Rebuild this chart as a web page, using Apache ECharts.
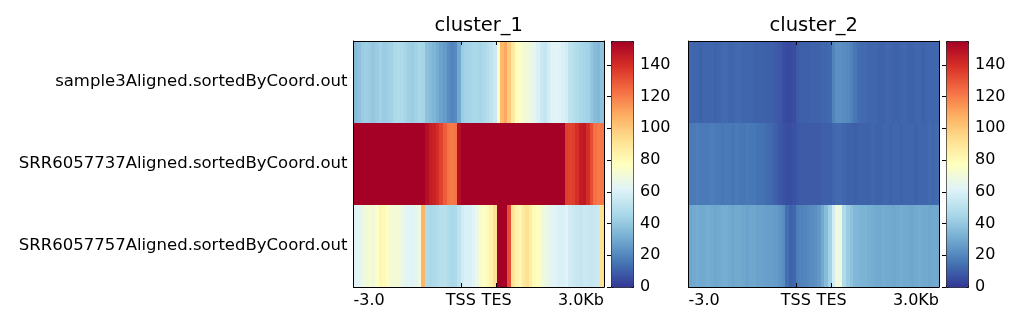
<!DOCTYPE html>
<html>
<head>
<meta charset="utf-8">
<script src="https://cdn.jsdelivr.net/npm/echarts@6/dist/echarts.min.js"></script>
<style>
  html, body { margin: 0; padding: 0; background: #fff; }
  #chart { width: 1024px; height: 326px; }
</style>
</head>
<body>
<div id="chart"></div>
<script>
// Rows of each heatmap (one per sample), top to bottom
const samples = [
  'sample3Aligned.sortedByCoord.out',
  'SRR6057737Aligned.sortedByCoord.out',
  'SRR6057757Aligned.sortedByCoord.out'
];
const clusterNames = ['cluster_1', 'cluster_2'];

// 70 bins of 100 bp: 30 upstream (-3 kb .. TSS), 10 body (TSS .. TES), 30 downstream (TES .. +3 kb)
const binCount = 70;

// cluster_1 mean coverage per bin
const c1Sample3 = [36, 38, 42, 43, 42, 40, 42, 44, 42, 43, 44, 47, 48, 47, 45, 43, 42, 44, 46, 45,
  38, 36, 34, 31, 28, 26, 22, 20, 21, 30, 42, 44, 45, 46, 46, 45, 47, 49, 52, 56,
  75, 105, 110, 100, 88, 78, 76, 72, 70, 68, 66, 60, 56, 54, 58, 62, 63, 62, 60, 58,
  52, 50, 48, 46, 45, 44, 40, 36, 35, 38];
const c1Srr37 = [172, 168, 175, 170, 166, 171, 169, 174, 167, 170, 165, 168, 172, 169, 171, 166, 170, 164, 162, 158,
  150, 146, 144, 140, 135, 128, 122, 121, 122, 150, 160, 166, 170, 172, 168, 174, 176, 178, 175, 172,
  170, 168, 171, 169, 167, 170, 172, 168, 166, 165, 167, 169, 166, 164, 168, 166, 163, 160, 158, 136,
  135, 136, 140, 146, 147, 140, 132, 123, 121, 122];
const c1Srr57 = [62, 64, 68, 70, 72, 70, 76, 82, 80, 76, 72, 70, 72, 68, 64, 63, 62, 64, 70, 106,
  48, 46, 47, 48, 50, 50, 48, 46, 47, 52, 58, 60, 60, 62, 68, 74, 76, 80, 84, 92,
  160, 170, 165, 132, 90, 84, 82, 88, 92, 86, 80, 78, 72, 68, 66, 64, 62, 60, 60, 62,
  58, 56, 55, 54, 56, 55, 54, 55, 56, 92];

// cluster_2 mean coverage per bin
const c2Sample3 = [12, 12, 12, 11, 12, 12, 12, 11, 12, 13, 13, 12, 12, 13, 13, 12, 12, 12, 11, 11,
  11, 10, 10, 10, 9, 8, 6, 5, 5, 6, 9, 10, 10, 10, 11, 11, 11, 12, 12, 13,
  20, 23, 23, 22, 21, 19, 16, 14, 13, 13, 12, 12, 12, 11, 11, 12, 12, 11, 11, 12,
  12, 11, 11, 12, 12, 11, 12, 12, 12, 12];
const c2Srr37 = [17, 17, 18, 17, 17, 17, 18, 17, 17, 16, 17, 17, 16, 17, 16, 16, 17, 16, 16, 15,
  15, 14, 13, 12, 10, 8, 7, 6, 6, 7, 8, 9, 9, 9, 9, 9, 9, 10, 10, 10,
  12, 13, 13, 12, 11, 11, 10, 11, 11, 11, 11, 12, 11, 11, 12, 12, 11, 12, 12, 11,
  12, 12, 12, 11, 12, 12, 12, 13, 12, 13];
const c2Srr57 = [29, 30, 31, 30, 30, 31, 30, 29, 30, 31, 31, 30, 29, 30, 30, 29, 28, 29, 29, 28,
  28, 27, 27, 27, 26, 24, 22, 14, 11, 12, 18, 19, 20, 21, 22, 23, 25, 30, 36, 44,
  58, 70, 68, 48, 42, 38, 35, 34, 33, 33, 32, 31, 30, 30, 31, 30, 30, 29, 30, 31,
  30, 30, 29, 30, 31, 30, 30, 29, 30, 30];

// x-axis labels at bin boundaries
const xTickBins = [0, 30, 40, 70];
const xTickLabels = ['-3.0', 'TSS', 'TES', '3.0Kb'];
// colorbar scale
const colorMin = 0;
const colorMax = 155;
const colorbarTicks = [0, 20, 40, 60, 80, 100, 120, 140];
// RdYlBu reversed
const rdylbuR = ['#313695', '#4575b4', '#74add1', '#abd9e9', '#e0f3f8', '#ffffbf',
  '#fee090', '#fdae61', '#f46d43', '#d73027', '#a50026'];

const clusterRows = [
  [c1Sample3, c1Srr37, c1Srr57],
  [c2Sample3, c2Srr37, c2Srr57]
];

function heatData(rows) {
  const out = [];
  rows.forEach((vals, r) => vals.forEach((v, i) => out.push([i, r, v])));
  return out;
}

// One cell per bin; edges snapped to whole pixels so neighbouring cells meet without seams
function renderCell(params, api) {
  const c = api.coord([api.value(0), api.value(1)]);
  const s = api.size([1, 1]);
  const x0 = Math.round(c[0] - s[0] / 2), x1 = Math.round(c[0] + s[0] / 2);
  const y0 = Math.round(c[1] - s[1] / 2), y1 = Math.round(c[1] + s[1] / 2);
  return {
    type: 'rect',
    shape: { x: x0, y: y0, width: x1 - x0, height: y1 - y0 },
    style: { fill: api.visual('color') }
  };
}

const FONT = 'DejaVu Sans';
const panels = [
  { left: 353.5, cbarLeft: 611 },
  { left: 688.5, cbarLeft: 946 }
];
const plotTop = 41, plotW = 250.5, plotH = 246, cbarW = 22;
const binNames = Array.from({ length: binCount }, (_, i) => String(i));
const labelOf = {};
xTickBins.forEach((b, k) => { labelOf[b] = xTickLabels[k]; });

const grid = [], xAxis = [], yAxis = [], series = [], visualMap = [], title = [];
const lineStyle = { color: '#000', width: 1 };

panels.forEach((p, k) => {
  const g = grid.length;
  grid.push({ left: p.left, top: plotTop, width: plotW, height: plotH });
  // heatmap band axes
  const xCat = xAxis.length;
  xAxis.push({ type: 'category', gridIndex: g, data: binNames, show: false });
  xAxis.push({
    type: 'value', gridIndex: g, min: 0, max: binCount, position: 'bottom', z: 10,
    axisLine: { show: true, onZero: false, lineStyle },
    splitLine: { show: false },
    axisTick: { show: true, inside: true, length: 4, lineStyle, customValues: [30, 40] },
    axisLabel: {
      show: true, customValues: xTickBins, margin: 6, color: '#000',
      fontFamily: FONT, fontSize: 16,
      alignMinLabel: 'left', alignMaxLabel: 'right',
      formatter: v => labelOf[v] || ''
    }
  });
  xAxis.push({
    type: 'value', gridIndex: g, min: 0, max: binCount, position: 'top', z: 10,
    axisLine: { show: true, onZero: false, lineStyle },
    splitLine: { show: false },
    axisTick: { show: true, inside: true, length: 4, lineStyle, customValues: [30, 40] },
    axisLabel: { show: false }
  });
  const yCat = yAxis.length;
  yAxis.push({
    type: 'category', gridIndex: g, data: samples, inverse: true, position: 'left', z: 10,
    axisLine: { show: true, lineStyle },
    axisTick: { show: false },
    axisLabel: { show: k === 0, color: '#000', fontFamily: FONT, fontSize: 16.5, margin: 6 }
  });
  yAxis.push({
    type: 'value', gridIndex: g, min: 0, max: 1, position: 'right', z: 10,
    axisLine: { show: true, onZero: false, lineStyle },
    axisTick: { show: false }, axisLabel: { show: false }, splitLine: { show: false }
  });
  const sIdx = series.length;
  series.push({
    type: 'custom', name: clusterNames[k],
    xAxisIndex: xCat, yAxisIndex: yCat,
    renderItem: renderCell,
    encode: { x: 0, y: 1 },
    data: heatData(clusterRows[k]),
    silent: true
  });
  visualMap.push({
    type: 'continuous', seriesIndex: sIdx, dimension: 2, min: colorMin, max: colorMax,
    calculable: false, hoverLink: false, realtime: false,
    left: p.cbarLeft, top: plotTop, itemWidth: cbarW, itemHeight: plotH,
    padding: 0, borderColor: '#000', borderWidth: 1,
    inRange: { color: rdylbuR }
  });
  title.push({
    text: clusterNames[k], left: p.left + plotW / 2, top: 16, textAlign: 'center', padding: 0,
    textStyle: { fontFamily: FONT, fontSize: 19.5, fontWeight: 'normal', color: '#000' }
  });
  // colorbar tick axis
  const cg = grid.length;
  grid.push({ left: p.cbarLeft, top: plotTop, width: cbarW, height: plotH });
  xAxis.push({ type: 'value', gridIndex: cg, show: false, min: 0, max: 1 });
  yAxis.push({
    type: 'value', gridIndex: cg, min: colorMin, max: colorMax, position: 'right', z: 10,
    axisLine: { show: false },
    splitLine: { show: false },
    axisTick: { show: true, inside: true, length: 4, lineStyle, customValues: colorbarTicks },
    axisLabel: {
      show: true, customValues: colorbarTicks, margin: 7, color: '#000',
      fontFamily: FONT, fontSize: 16
    }
  });
});

const chart = echarts.init(document.getElementById('chart'), null, { renderer: 'canvas' });
chart.setOption({
  animation: false,
  backgroundColor: '#fff',
  title, grid, xAxis, yAxis, visualMap, series
});
</script>
</body>
</html>
